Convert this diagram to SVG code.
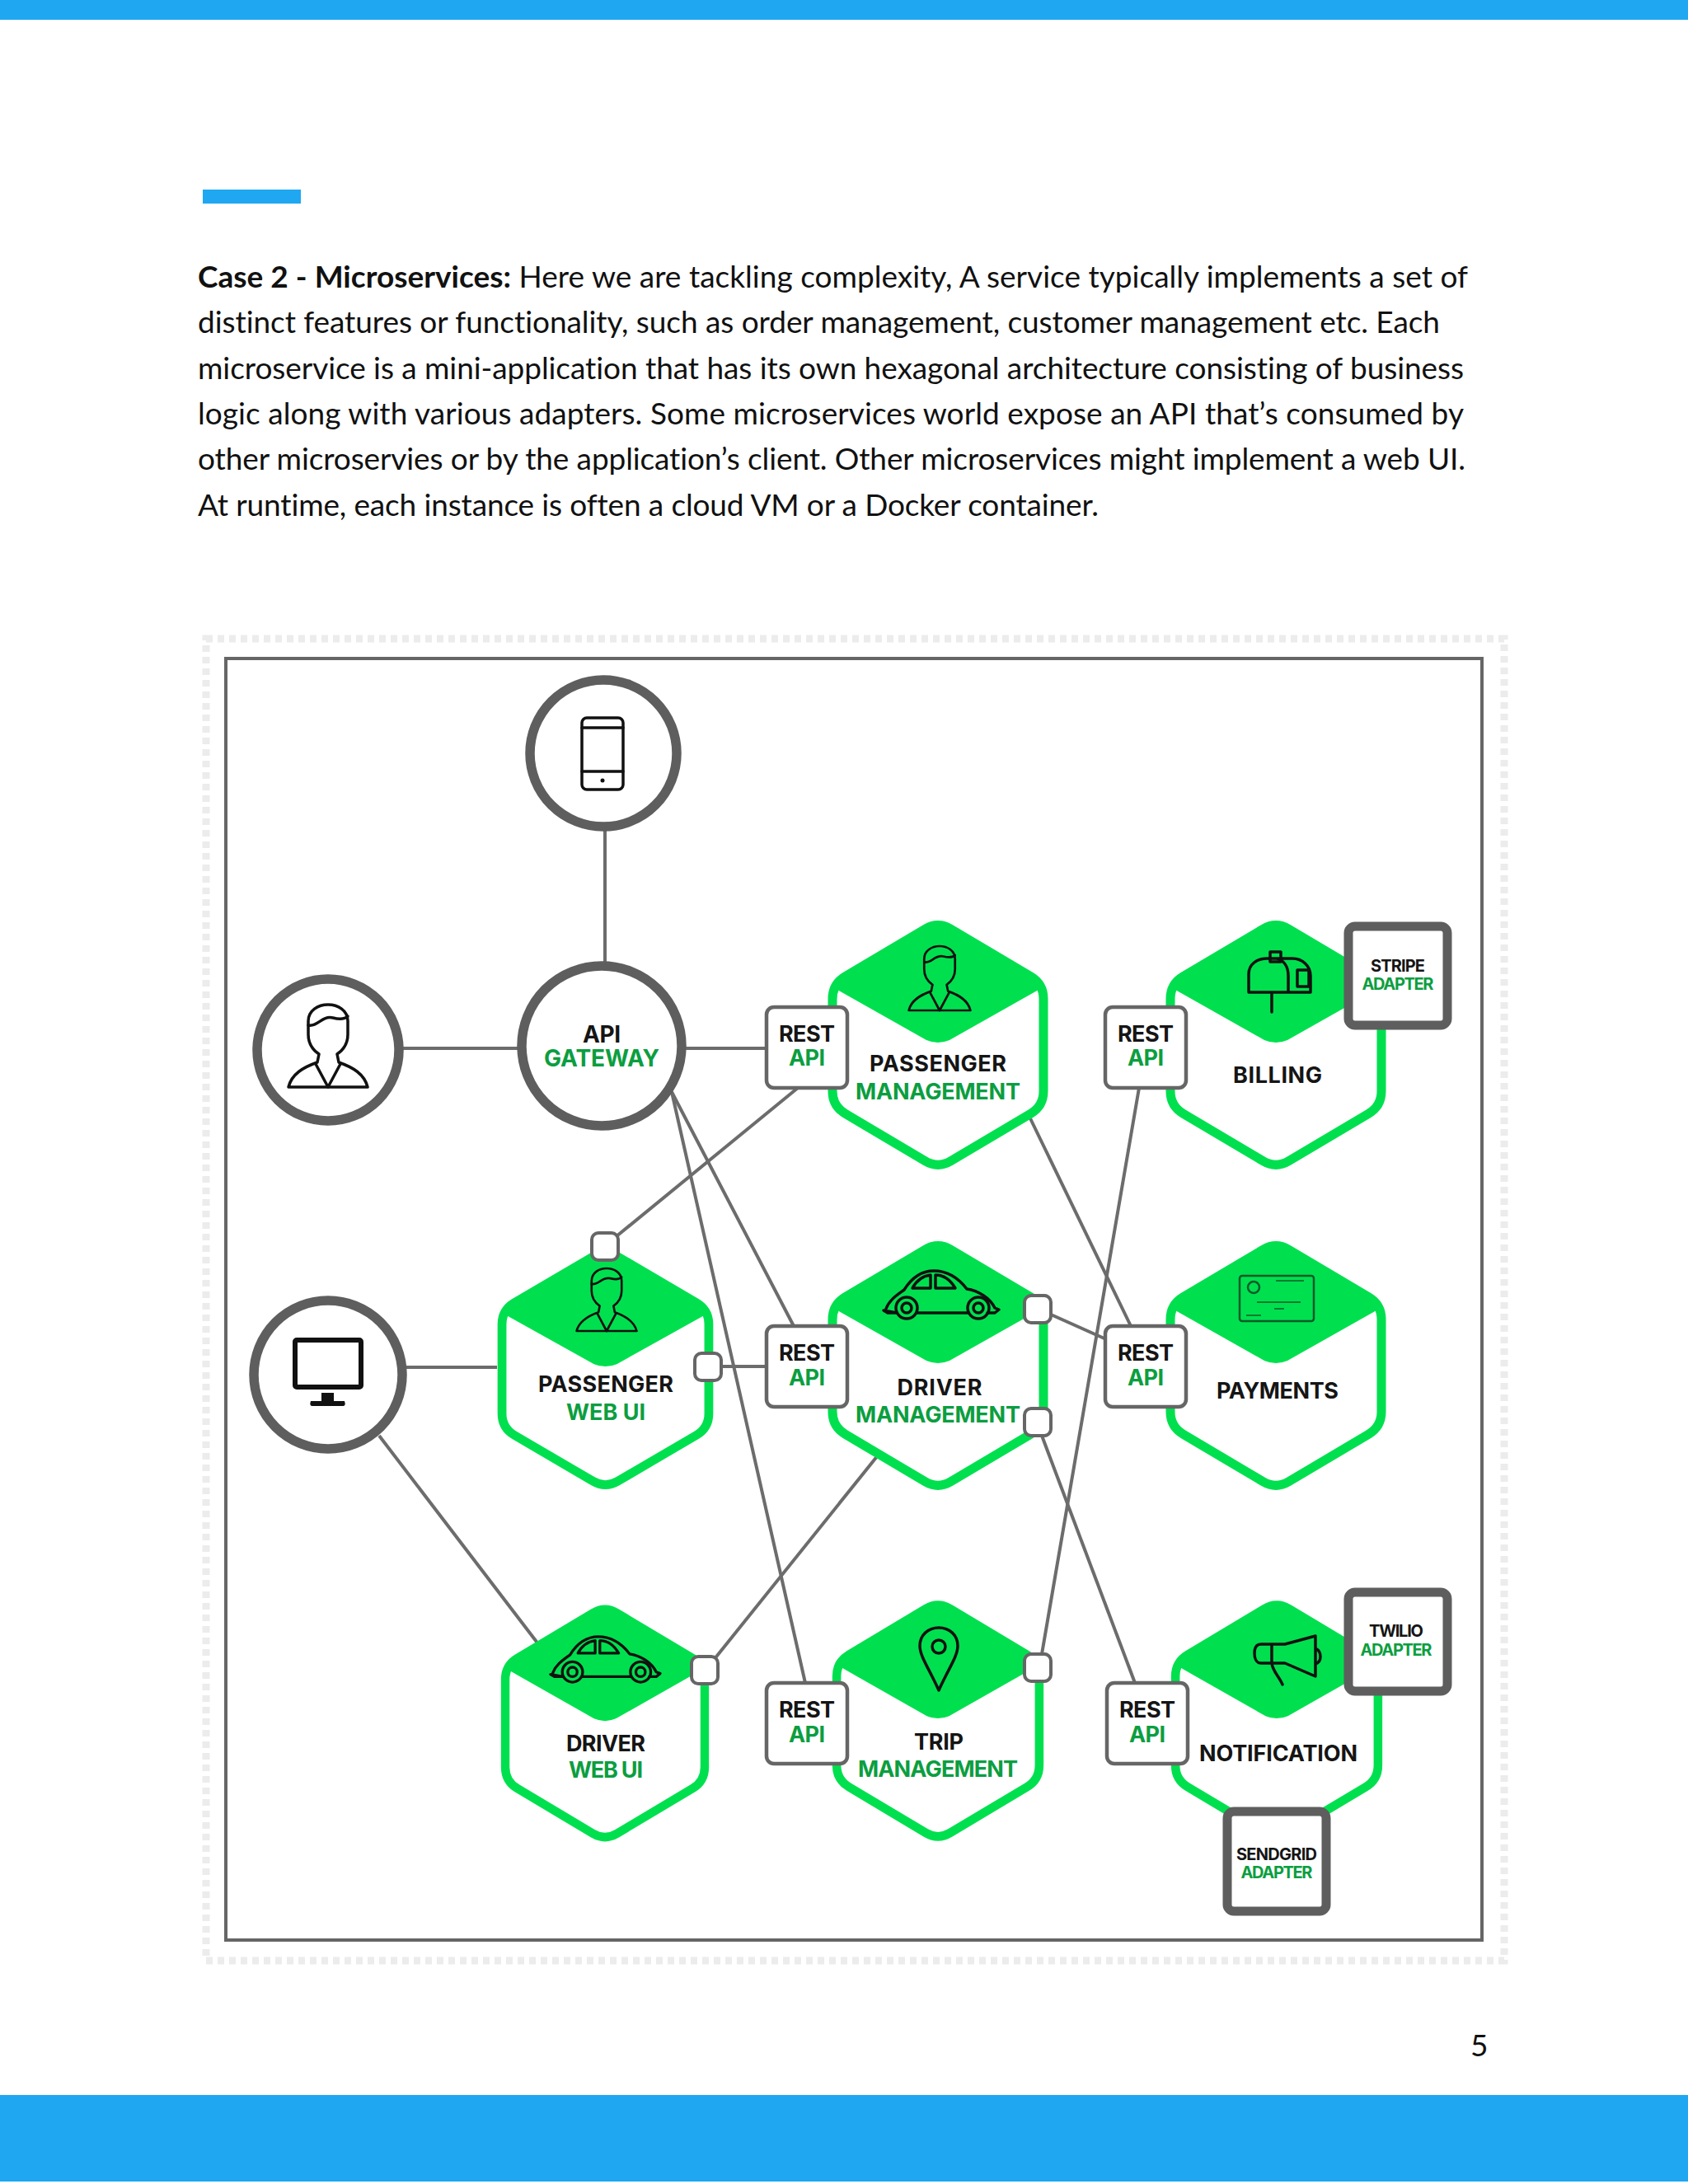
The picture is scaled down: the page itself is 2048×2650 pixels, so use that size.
<svg xmlns="http://www.w3.org/2000/svg" width="2048" height="2650" viewBox="0 0 2048 2650">
<style>
.body{font-family:"Lato","Open Sans",sans-serif;font-size:37px;fill:#111;font-variant-ligatures:none}
.b{font-weight:700}
.k,.g{font-family:"Inter","Liberation Sans",sans-serif;font-weight:700;text-anchor:middle}
.k{fill:#151515}
.g{fill:#0b9e40}
.f27{font-size:27px}.f28{font-size:28px}.f20{font-size:20px}
.con{fill:none;stroke:#6c6c6c;stroke-width:4}
.circ{fill:#fff;stroke:#5e5e5e;stroke-width:11.500}
.rest{fill:#fff;stroke:#666;stroke-width:4.500}
.port{fill:#fff;stroke:#666;stroke-width:4}
.adapter{fill:#fff;stroke:#5e5e5e;stroke-width:11}
.ic{fill:none;stroke:#111;stroke-width:3.500;stroke-linejoin:round;stroke-linecap:round}
</style>
<defs>
<g id="hex">
<path id="hexline" d="M-15.500,-140.800Q0,-150,15.500,-140.800L112.500,-83.200Q128,-74,128,-56V56Q128,74,112.500,83.200L15.500,140.800Q0,150,-15.500,140.800L-112.500,83.200Q-128,74,-128,56V-56Q-128,-74,-112.500,-83.200Z" fill="#fff"/>
<path d="M-15.500,-140.800Q0,-150,15.500,-140.800L112.500,-83.200Q128,-74,128,-56L122,-67L14,-6Q0,0,-14,-6L-122,-67L-128,-56Q-128,-74,-112.500,-83.200Z" fill="#00e04f"/>
<path d="M-15.500,-140.800Q0,-150,15.500,-140.800L112.500,-83.200Q128,-74,128,-56V56Q128,74,112.500,83.200L15.500,140.800Q0,150,-15.500,140.800L-112.500,83.200Q-128,74,-128,56V-56Q-128,-74,-112.500,-83.200Z" fill="none" stroke="#00e04f" stroke-width="11"/>
</g>
<g id="person">
<path d="M-11,60C-20,54-24,46-24,36V20C-24,7-12,0,0,0C12,0,24,7,24,20V36C24,46,20,54,11,60L13,70C30,76,44,84,48,100H-48C-44,84-30,76-13,70Z"/>
<path d="M-24,25C-12,27-8,13,6,16C14,18,20,18,24,14"/>
<path d="M-15,72L0,100L15,72"/>
</g>
<g id="car">
<path d="M4,47C8,36,18,30,26,24C36,8,48,1,62,1C80,1,92,10,102,23C116,25,130,34,136,46L141,48L136,52H127M104,52H42M17,52H6L1,49Z"/>
<path d="M36,22C42,11,50,7,58,6V22ZM64,6C74,6,82,12,88,22H64Z"/>
<circle cx="29" cy="46" r="13"/><circle cx="29" cy="46" r="6"/>
<circle cx="116" cy="46" r="13"/><circle cx="116" cy="46" r="6"/>
</g>
</defs>
<rect width="2048" height="2650" fill="#fff"/>
<g id="page">
<rect x="0" y="0" width="2048" height="24" fill="#1fa8f1"/>
<rect x="0" y="2542" width="2048" height="105" fill="#1fa8f1"/>
<rect x="246" y="230" width="119" height="17" fill="#1fa8f1"/>
<text class="body" x="240" y="349" textLength="1541"><tspan class="b">Case 2 - Microservices:</tspan> Here we are tackling complexity, A service typically implements a set of</text>
<text class="body" x="240" y="404" textLength="1507">distinct features or functionality, such as order management, customer management etc. Each</text>
<text class="body" x="240" y="459.500" textLength="1536">microservice is a mini-application that has its own hexagonal architecture consisting of business</text>
<text class="body" x="240" y="515" textLength="1536">logic along with various adapters. Some microservices world expose an API that’s consumed by</text>
<text class="body" x="240" y="570" textLength="1538">other microservies or by the application’s client. Other microservices might implement a web UI.</text>
<text class="body" x="240" y="625.500" textLength="1093">At runtime, each instance is often a cloud VM or a Docker container.</text>
<text class="body" x="1784" y="2495">5</text>
<rect x="250" y="775" width="1575" height="1604" fill="none" stroke="#ececec" stroke-width="9" stroke-dasharray="8 6"/>
<rect x="274" y="799" width="1524" height="1555" fill="#fff" stroke="#666" stroke-width="4"/>
</g>
<g id="connectors">
<path class="con" d="M734,1006V1170"/>
<path class="con" d="M487,1272H630"/>
<path class="con" d="M830,1272H930"/>
<path class="con" d="M815,1325L963,1609"/>
<path class="con" d="M815,1325L977,2042"/>
<path class="con" d="M968,1320L748,1500"/>
<path class="con" d="M490,1659H603"/>
<path class="con" d="M859,1658H930"/>
<path class="con" d="M460,1742L654,1996"/>
<path class="con" d="M866,2014L1065,1766"/>
<path class="con" d="M1249,1355L1372,1609"/>
<path class="con" d="M1275,1595L1342,1625"/>
<path class="con" d="M1264,1742L1377,2042"/>
<path class="con" d="M1264,2007L1382,1320"/>
</g>
<g id="phone-client">
<circle class="circ" cx="732" cy="914" r="89"/>
<g class="ic"><rect x="706" y="871" width="50" height="87" rx="6"/><path d="M706,883H756M706,936H756"/></g>
<circle cx="731" cy="947" r="2.500" fill="#111"/>
</g>
<g id="user-client">
<circle class="circ" cx="398" cy="1274" r="86"/>
<use href="#person" transform="translate(398,1219)" class="ic"/>
</g>
<g id="api-gateway">
<circle class="circ" cx="730" cy="1269" r="97"/>
<text class="k f28" x="730" y="1265" textLength="46">API</text>
<text class="g f28" x="730" y="1294" textLength="140">GATEWAY</text>
</g>
<g id="desktop-client">
<circle class="circ" cx="398" cy="1668" r="90"/>
<rect x="358" y="1626" width="80" height="57" rx="2" fill="none" stroke="#111" stroke-width="6"/>
<path d="M390,1690H405V1700H418Q420,1706,416,1706H379Q375,1706,377,1700H390Z" fill="#111"/>
</g>
<g id="passenger-management">
<use href="#hex" transform="translate(1138,1268)"/>
<use href="#person" transform="translate(1140,1148) scale(.78)" class="ic"/>
<text class="k f27" x="1138" y="1300" textLength="166">PASSENGER</text>
<text class="g f27" x="1138" y="1334" textLength="200">MANAGEMENT</text>
</g>
<g id="billing">
<use href="#hex" transform="translate(1548,1268)"/>
<g class="ic"><path d="M1515,1204V1182C1515,1170,1525,1163,1537,1163H1568C1580,1163,1590,1172,1590,1184V1204ZM1563,1204V1184C1563,1172,1557,1165,1549,1163M1543,1204V1228"/><rect x="1541" y="1155" width="13" height="12"/><rect x="1574" y="1177" width="14" height="20"/></g>
<text class="k f27" x="1550" y="1314" textLength="108">BILLING</text>
</g>
<g id="stripe-adapter">
<rect class="adapter" x="1636" y="1124" width="120" height="120" rx="8"/>
<text class="k f20" x="1696" y="1179" textLength="66">STRIPE</text>
<text class="g f20" x="1696" y="1201" textLength="87">ADAPTER</text>
</g>
<g id="passenger-web-ui">
<use href="#hex" transform="translate(734.500,1661) scale(.98,.967)"/>
<use href="#person" transform="translate(736,1539) scale(.76)" class="ic"/>
<text class="k f27" x="735" y="1689" textLength="164">PASSENGER</text>
<text class="g f27" x="735" y="1723" textLength="96">WEB UI</text>
</g>
<g id="driver-management">
<use href="#hex" transform="translate(1138,1657)"/>
<use href="#car" transform="translate(1071,1541)" class="ic"/>
<text class="k f27" x="1140" y="1693" textLength="103">DRIVER</text>
<text class="g f27" x="1138" y="1726" textLength="200">MANAGEMENT</text>
</g>
<g id="payments">
<use href="#hex" transform="translate(1548,1657)"/>
<g fill="none" stroke="#075a2a" stroke-width="2.500"><rect x="1504" y="1548" width="90" height="55" rx="3"/><circle cx="1521" cy="1562" r="7"/><path d="M1548,1554H1582M1525,1580H1578M1546,1588H1558M1512,1596H1530" stroke-width="1.500"/></g>
<text class="k f27" x="1550" y="1697" textLength="148">PAYMENTS</text>
</g>
<g id="driver-web-ui">
<use href="#hex" transform="translate(734,2091) scale(.945,.95)"/>
<use href="#car" transform="translate(667,1985) scale(.95)" class="ic"/>
<text class="k f27" x="735" y="2125" textLength="96">DRIVER</text>
<text class="g f27" x="735" y="2157" textLength="90">WEB UI</text>
</g>
<g id="trip-management">
<use href="#hex" transform="translate(1138,2088) scale(.96,.965)"/>
<g class="ic"><path d="M1139,2051C1128,2026,1116,2010,1116,1997C1116,1984,1126,1975,1139,1975C1152,1975,1162,1984,1162,1997C1162,2010,1150,2026,1139,2051Z"/><circle cx="1139" cy="1998" r="8"/></g>
<text class="k f27" x="1139" y="2123" textLength="60">TRIP</text>
<text class="g f27" x="1138" y="2156" textLength="194">MANAGEMENT</text>
</g>
<g id="notification">
<use href="#hex" transform="translate(1549,2088) scale(.96,.965)"/>
<g class="ic"><path d="M1596,1985V2034L1559,2018H1530C1524,2018,1522,2012,1522,2006C1522,2000,1524,1995,1530,1995H1559ZM1596,2000C1604,2004,1604,2016,1596,2019M1543,1995V2018M1543,2018C1544,2028,1552,2034,1556,2044"/></g>
<text class="k f27" x="1551" y="2137" textLength="192">NOTIFICATION</text>
</g>
<g id="twilio-adapter">
<rect class="adapter" x="1636" y="1932" width="120" height="120" rx="8"/>
<text class="k f20" x="1694" y="1986" textLength="66">TWILIO</text>
<text class="g f20" x="1694" y="2009" textLength="87">ADAPTER</text>
</g>
<g id="sendgrid-adapter">
<rect class="adapter" x="1489" y="2198" width="120" height="121" rx="8"/>
<text class="k f20" x="1549" y="2257" textLength="98">SENDGRID</text>
<text class="g f20" x="1549" y="2279" textLength="87">ADAPTER</text>
</g>
<g id="rest-passenger"><rect class="rest" x="930" y="1222" width="98" height="98" rx="9"/><text class="k f27" x="979" y="1264" textLength="68">REST</text><text class="g f27" x="979" y="1293" textLength="44">API</text></g>
<g id="rest-billing"><rect class="rest" x="1341" y="1222" width="98" height="98" rx="9"/><text class="k f27" x="1390" y="1264" textLength="68">REST</text><text class="g f27" x="1390" y="1293" textLength="44">API</text></g>
<g id="rest-driver"><rect class="rest" x="930" y="1609" width="98" height="98" rx="9"/><text class="k f27" x="979" y="1651" textLength="68">REST</text><text class="g f27" x="979" y="1681" textLength="44">API</text></g>
<g id="rest-payments"><rect class="rest" x="1341" y="1609" width="98" height="98" rx="9"/><text class="k f27" x="1390" y="1651" textLength="68">REST</text><text class="g f27" x="1390" y="1681" textLength="44">API</text></g>
<g id="rest-trip"><rect class="rest" x="930" y="2042" width="98" height="98" rx="9"/><text class="k f27" x="979" y="2084" textLength="68">REST</text><text class="g f27" x="979" y="2114" textLength="44">API</text></g>
<g id="rest-notification"><rect class="rest" x="1343" y="2042" width="98" height="98" rx="9"/><text class="k f27" x="1392" y="2084" textLength="68">REST</text><text class="g f27" x="1392" y="2114" textLength="44">API</text></g>
<g id="ports">
<rect class="port" x="718" y="1496" width="32" height="33" rx="8"/>
<rect class="port" x="843" y="1642" width="32" height="33" rx="8"/>
<rect class="port" x="1243" y="1572" width="32" height="33" rx="8"/>
<rect class="port" x="1243" y="1709" width="32" height="33" rx="8"/>
<rect class="port" x="839" y="2010" width="32" height="33" rx="8"/>
<rect class="port" x="1243" y="2007" width="32" height="33" rx="8"/>
</g>
</svg>
